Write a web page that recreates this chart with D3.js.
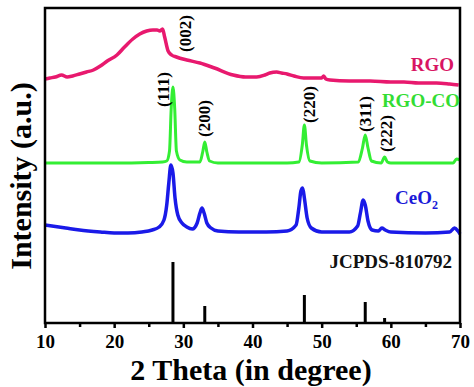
<!DOCTYPE html>
<html lang="en">
<head>
<meta charset="UTF-8">
<title>XRD</title>
<style>
  body { margin: 0; background: #fff; }
  svg text { font-family: "Liberation Serif", "Times New Roman", serif; font-weight: bold; }
</style>
</head>
<body>
<svg id="chart"></svg>
<script src="https://cdnjs.cloudflare.com/ajax/libs/d3/7.8.5/d3.min.js"></script>
<script>
// 2 theta (deg) and intensity (a.u., offset stacked)
const rgoTheta = [10, 10.7, 11.5, 12.4, 13.2, 14, 15, 16, 17, 18, 19, 20.4, 21.5, 22.7, 23.7, 24.7, 25.6, 26.2, 26.6, 27, 27.3, 27.8, 28.3, 29, 30.5, 32.4, 34.5, 37.2, 39, 40.6, 41.8, 42.5, 43.5, 44.2, 45, 46, 47.4, 49, 50, 50.3, 50.6, 51.2, 54, 57, 60, 61.9, 64, 66.6, 68.5, 69.8];
const rgoVal   = [244, 245, 246, 248, 246, 247, 249, 251, 253, 257, 262, 268, 276, 284, 289, 292, 293, 293, 292, 294, 286, 272, 268, 266, 263, 260, 255, 248, 246, 246, 248, 250, 251, 250, 249, 247, 245, 245, 245, 247, 244, 243, 242, 242, 241, 241, 240, 240, 239, 238];

const rgocoTheta = [10, 15, 20, 25, 27, 27.6, 28.0, 28.25, 28.5, 28.75, 29.0, 29.5, 30.5, 32.4, 32.8, 33.1, 33.4, 33.8, 35, 40, 45, 46.7, 47.2, 47.5, 47.8, 48.3, 50, 55.3, 55.9, 56.3, 56.7, 57.2, 58.6, 59.1, 59.5, 60, 65, 69, 69.5, 70];
const rgocoVal   = [160, 160, 160, 160.5, 161, 162, 172, 215, 236, 215, 172, 163, 161, 161, 171, 181, 171, 162, 160, 160, 160, 161, 178, 198, 178, 162, 160, 161, 175, 188, 175, 162, 160, 166, 161, 160, 160, 160, 164, 163];

const ceoTheta = [10, 11, 12, 13, 15, 18, 20, 22, 24, 25.5, 26.5, 27.2, 27.6, 27.9, 28.2, 28.5, 28.8, 29.2, 29.8, 30.5, 31.3, 32.0, 32.4, 32.7, 33.0, 33.4, 34, 35, 38, 42, 45, 46.3, 46.7, 47.0, 47.25, 47.5, 47.9, 48.5, 50, 54, 55.2, 55.6, 56.0, 56.3, 56.7, 57.3, 58.2, 58.7, 59.2, 60, 65, 68.5, 69.2, 69.7, 70];
const ceoVal   = [98, 97, 96, 95, 93, 91, 90, 90, 91, 93, 96, 103, 118, 140, 158, 150, 125, 108, 100, 96, 94, 100, 110, 115, 110, 100, 95, 92, 91, 91, 92, 98, 115, 132, 135, 125, 105, 95, 91, 91, 97, 110, 123, 118, 102, 93, 92, 95, 93, 91, 90, 91, 95, 92, 89];

// JCPDS-810792 reference lines
const stickTheta = [28.5, 33.1, 47.5, 56.3, 59.1];
const stickVal   = [61, 17, 28, 21, 5];

// Miller index labels (position = centre theta, bottom of text)
const hklText  = ["(002)", "(111)", "(200)", "(220)", "(311)", "(222)"];
const hklTheta = [30.2, 27.05, 33.0, 48.15, 56.25, 59.3];
const hklVal   = [271, 216, 186, 200, 191, 171];

const xTicks = [10, 20, 30, 40, 50, 60, 70];

const W = 474, H = 387;
const m = { l: 45, r: 14, t: 8, b: 64 };

const svg = d3.select('#chart').attr('width', W).attr('height', H);

const x = d3.scaleLinear().domain([10, 70]).range([m.l, W - m.r]);
const y = d3.scaleLinear().domain([0, 315]).range([H - m.b, m.t]);

const line = d3.line()
  .x(d => x(d[0]))
  .y(d => y(d[1]))
  .curve(d3.curveMonotoneX);

function drawSeries(th, val, color, w) {
  svg.append('path')
    .datum(d3.zip(th, val))
    .attr('fill', 'none')
    .attr('stroke', color)
    .attr('stroke-width', w)
    .attr('stroke-linejoin', 'round')
    .attr('d', line);
}

drawSeries(rgoTheta, rgoVal, '#e8196e', 3.5);
drawSeries(rgocoTheta, rgocoVal, '#33ee33', 3);
drawSeries(ceoTheta, ceoVal, '#1a1ae8', 3.5);

// sticks
svg.selectAll('.stick')
  .data(d3.zip(stickTheta, stickVal))
  .join('line')
  .attr('x1', d => x(d[0])).attr('x2', d => x(d[0]))
  .attr('y1', y(0)).attr('y2', d => y(d[1]))
  .attr('stroke', '#000').attr('stroke-width', 3);

// frame
svg.append('rect')
  .attr('x', x(10)).attr('y', y(315))
  .attr('width', x(70) - x(10)).attr('height', y(0) - y(315))
  .attr('fill', 'none').attr('stroke', '#000').attr('stroke-width', 2.5);

// bottom axis
const xAxis = svg.append('g')
  .attr('transform', `translate(0,${y(0)})`)
  .call(d3.axisBottom(x).tickValues(xTicks).tickSize(5).tickPadding(7).tickFormat(d3.format('d')));
xAxis.select('.domain').remove();
xAxis.selectAll('line').attr('stroke-width', 2.5);
xAxis.selectAll('text').attr('font-size', 19).attr('fill', '#000')
  .style('font-family', '"Liberation Serif", serif').style('font-weight', 'bold');
svg.append('g')
  .attr('transform', `translate(0,${y(0)})`)
  .call(d3.axisBottom(x).tickValues([15, 25, 35, 45, 55, 65]).tickSize(4).tickFormat(''))
  .call(g => g.select('.domain').remove())
  .selectAll('line').attr('stroke-width', 2.5);

// axis titles
svg.append('text')
  .attr('x', 251).attr('y', 380)
  .attr('text-anchor', 'middle').attr('font-size', 30)
  .text('2 Theta (in degree)');
svg.append('text')
  .attr('transform', `translate(31,176) rotate(-90)`)
  .attr('text-anchor', 'middle').attr('font-size', 30)
  .text('Intensity (a.u.)');

// hkl labels (rotated)
svg.selectAll('.hkl')
  .data(d3.zip(hklText, hklTheta, hklVal))
  .join('text')
  .attr('transform', d => `translate(${x(d[1]) + 6},${y(d[2])}) rotate(-90)`)
  .attr('font-size', 17)
  .text(d => d[0]);

// series labels
svg.append('text').attr('x', 454).attr('y', 71).attr('text-anchor', 'end')
  .attr('font-size', 19).attr('fill', '#d81563').text('RGO');
svg.append('text').attr('x', 460).attr('y', 107).attr('text-anchor', 'end')
  .attr('font-size', 19).attr('fill', '#33dd33').text('RGO-CO');
const ce = svg.append('text').attr('x', 395).attr('y', 204)
  .attr('font-size', 19).attr('fill', '#1a1ad8');
ce.append('tspan').text('CeO');
ce.append('tspan').attr('font-size', 12).attr('dy', 5).text('2');
svg.append('text').attr('x', 452).attr('y', 268).attr('text-anchor', 'end')
  .attr('font-size', 19).attr('fill', '#111').text('JCPDS-810792');
</script>
</body>
</html>
